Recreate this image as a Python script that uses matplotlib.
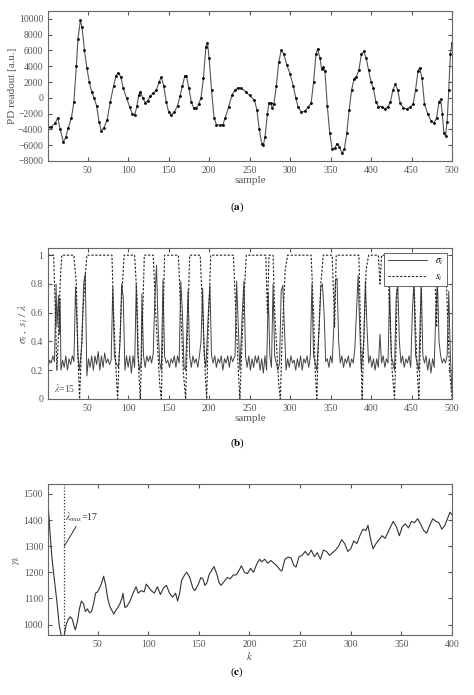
import matplotlib
matplotlib.use("Agg")
import matplotlib.pyplot as plt
import numpy as np

plt.rcParams['font.family'] = ['Liberation Serif', 'DejaVu Serif']
plt.rcParams['mathtext.fontset'] = 'stix'

# Panel (a): PD readout key points
a_x = [1,5,10,13,16,20,23,26,30,33,36,38,41,43,46,49,52,55,58,61,64,67,70,74,78,82,85,88,91,94,98,102,105,108,111,113,115,118,121,124,127,131,135,138,141,144,147,150,153,157,161,164,167,170,172,175,178,181,184,187,190,193,196,198,200,203,206,209,213,217,220,224,228,232,236,240,245,250,256,259,262,265,267,269,272,274,276,278,280,283,286,289,292,296,300,304,307,310,314,318,322,326,329,332,334,337,339,341,343,346,349,352,355,358,361,364,367,370,373,376,379,382,385,388,391,394,397,400,403,406,409,413,417,421,424,427,430,433,436,440,444,448,452,455,458,460,463,466,470,474,478,481,484,486,488,490,492,494,496,498,500]
a_y = [-3700,-3700,-3200,-2500,-4000,-5600,-5000,-3800,-2500,-500,4000,7500,9800,9000,6000,3800,2000,700,0,-1000,-3000,-4200,-3800,-2800,-500,1500,2800,3200,2600,1200,0,-1200,-2000,-2200,-1000,300,800,0,-600,-400,200,600,1000,2000,2600,1500,-500,-1800,-2200,-1800,-1000,200,1500,2800,2800,1200,-500,-1300,-1300,-800,0,2500,6500,7000,5000,1000,-2500,-3400,-3500,-3400,-2500,-1200,300,1000,1300,1200,800,300,-300,-1500,-4000,-5800,-6000,-5000,-2000,-600,-700,-1300,-800,1500,4500,6000,5600,4200,3000,1500,0,-1200,-1800,-1700,-1200,-700,2000,5500,6200,5000,3600,3900,3400,-1000,-4500,-6500,-6400,-5800,-6200,-7000,-6500,-4500,-1500,1000,2400,2700,3500,5500,5900,5000,3500,2000,1200,-500,-1100,-1100,-1400,-1100,-500,1000,1700,1000,-700,-1300,-1400,-1200,-800,1000,3400,3800,2500,-800,-2000,-2900,-3200,-2500,-500,-200,-2000,-4500,-4800,-3000,1000,5500,7000]

# Panel (b): sigma_i key points
sig_x = [1,3,5,7,9,11,12,14,15,16,17,19,21,23,25,27,29,31,33,35,37,38,40,43,45,47,49,51,53,55,57,59,61,63,65,67,69,71,73,75,77,79,81,83,85,88,90,92,94,96,98,100,102,104,106,108,110,112,114,116,117,119,121,123,125,127,129,131,133,135,137,139,141,143,145,147,149,151,153,155,157,159,161,163,165,167,169,171,174,176,178,180,182,184,186,188,190,192,194,196,199,201,203,205,207,209,211,213,215,217,219,221,223,225,227,229,232,234,236,238,241,243,245,247,249,251,253,255,257,259,261,263,265,267,269,271,273,275,277,279,281,283,285,287,289,291,293,295,297,299,301,303,305,307,309,311,313,315,317,319,321,323,325,327,329,331,333,336,338,340,342,344,346,348,350,352,354,356,358,360,362,364,366,368,370,372,374,376,378,380,382,384,386,388,391,393,395,397,399,401,403,405,407,409,411,413,415,417,419,421,423,425,427,429,431,433,435,437,439,441,443,445,447,449,451,453,455,457,459,462,464,466,468,470,472,474,476,478,480,482,484,486,488,490,492,494,496,498,500]
sig_y = [.22,.27,.25,.3,.26,.8,.5,.72,.45,.7,.2,.27,.22,.3,.2,.28,.24,.3,.26,.78,.5,.3,.2,.4,.8,.87,.16,.28,.22,.3,.2,.3,.24,.33,.2,.3,.22,.32,.25,.28,.24,.27,.78,.3,.25,.22,.4,.8,.7,.2,.3,.22,.3,.18,.3,.22,.8,.3,.2,.25,.73,.3,.22,.3,.26,.3,.25,.32,.7,.93,.5,.25,.2,.83,.3,.25,.27,.22,.28,.25,.3,.22,.3,.25,.82,.6,.22,.2,.76,.3,.22,.3,.25,.28,.22,.3,.4,.77,.3,.22,.6,.79,.3,.25,.3,.22,.28,.25,.3,.2,.28,.25,.3,.22,.3,.26,.3,.82,.5,.2,.6,.82,.3,.22,.3,.2,.28,.22,.3,.25,.3,.2,.28,.18,.3,.2,.74,.3,.22,.8,.3,.25,.2,.25,.75,.79,.5,.2,.28,.22,.3,.25,.27,.2,.28,.22,.3,.2,.28,.25,.3,.22,.3,.8,.3,.25,.2,.5,.78,.8,.6,.26,.28,.22,.3,.25,.5,.82,.84,.4,.25,.3,.22,.28,.25,.3,.22,.28,.25,.35,.6,.86,.5,.2,.4,.82,.5,.25,.3,.22,.28,.2,.28,.22,.45,.25,.3,.22,.28,.25,.79,.3,.25,.2,.7,.8,.4,.25,.3,.22,.28,.25,.3,.22,.6,.82,.3,.25,.2,.82,.3,.25,.3,.2,.28,.18,.28,.22,.6,.82,.4,.3,.25,.28,.25,.3,.75,.3,.05]

# Panel (b): s_i key points
s_x = [1,8,10,12,14,16,18,33,36,38,40,42,44,47,49,80,82,85,87,89,92,95,108,111,113,115,117,120,131,134,137,139,141,143,145,162,165,168,171,173,176,189,192,195,197,199,202,230,233,236,238,240,243,246,270,272,274,279,281,284,286,288,290,294,297,326,329,331,333,335,338,341,352,355,357,385,387,389,391,394,397,409,411,413,420,423,426,429,431,433,452,455,457,459,461,463,478,481,483,492,495,497,500]
s_y = [1,1,.6,.2,.45,.8,1,1,.8,.3,0,.3,.6,.85,1,1,.6,.2,0,.3,.7,1,1,.7,.2,0,.4,1,1,.6,.3,.1,0,.5,1,1,.6,.2,0,.4,1,1,.6,.2,0,.5,1,1,.6,.2,0,.3,.7,1,1,.6,1,1,.6,.3,.1,0,.4,.9,1,1,.6,.2,0,.4,.8,1,1,.5,1,1,.5,0,.4,.9,1,1,.8,1,1,.6,.2,0,.4,1,1,.5,.2,0,.4,1,1,.5,1,1,.5,.2,0]

# Panel (c): gamma_k key points
c_x = [1,3,5,8,10,12,14,16,17,19,21,23,25,27,28,30,32,34,36,38,40,42,44,46,48,50,52,54,56,58,60,62,64,66,68,70,72,74,75,77,79,82,85,88,90,93,96,98,100,103,106,109,112,115,118,121,124,127,129,131,133,136,138,141,144,146,149,152,154,156,158,160,163,165,168,170,172,175,178,181,184,187,190,192,195,198,201,204,207,210,212,215,218,221,224,227,230,232,235,238,241,244,246,249,252,255,258,261,264,267,270,273,276,279,282,285,288,291,294,297,300,303,306,309,312,315,317,320,322,325,328,331,334,337,340,342,345,348,351,354,357,360,363,366,369,372,375,378,381,384,387,390,393,396,398,400]
c_y = [1470,1350,1250,1150,1080,1000,960,950,960,1000,1020,1030,1020,990,980,1010,1060,1090,1080,1050,1060,1045,1050,1080,1120,1125,1140,1160,1185,1150,1100,1070,1055,1040,1055,1065,1080,1100,1120,1065,1070,1090,1120,1145,1120,1130,1125,1155,1145,1130,1120,1145,1115,1140,1150,1120,1105,1120,1090,1120,1170,1190,1200,1180,1140,1130,1150,1180,1175,1150,1160,1190,1210,1222,1190,1160,1150,1165,1180,1175,1190,1190,1210,1225,1200,1195,1215,1200,1230,1250,1240,1250,1235,1245,1235,1225,1210,1205,1250,1258,1255,1225,1220,1260,1265,1280,1265,1285,1260,1275,1250,1285,1280,1265,1275,1285,1300,1325,1310,1280,1290,1320,1310,1340,1365,1360,1380,1320,1290,1310,1325,1340,1330,1355,1380,1395,1375,1340,1375,1385,1370,1395,1390,1405,1385,1360,1350,1380,1405,1395,1390,1365,1380,1410,1430,1420]

lam_max = 17
lam = 15

W, H = 474, 695
fig = plt.figure(figsize=(W/100, H/100), dpi=100)
tc = '#555555'

def style(ax):
    ax.tick_params(direction='in', top=True, right=True, labelsize=7, colors=tc, length=3)
    for s in ax.spines.values():
        s.set_color('#666666'); s.set_linewidth(0.8)

def pos(top, bottom):
    return [48/W, 1-bottom/H, 404/W, (bottom-top)/H]

def panel_label(y, letter):
    fig.text(0.5, 1-y/H, r'($\mathbf{' + letter + '}$)', ha='center', va='center', fontsize=8)

ax1 = fig.add_axes(pos(11, 161))
ax1.plot(a_x, a_y, color='#555555', lw=0.8, marker='.', ms=2, mfc='black', mec='black')
ax1.set_xlim(1, 500); ax1.set_ylim(-8000, 11000)
ax1.set_xticks([50,100,150,200,250,300,350,400,450,500])
ax1.set_yticks(range(-8000, 10001, 2000))
ax1.set_xlabel('sample', fontsize=8, color=tc, labelpad=1)
ax1.set_ylabel('PD readout [a.u.]', fontsize=8, color=tc, labelpad=1)
style(ax1)
panel_label(207, 'a')

ax2 = fig.add_axes(pos(248, 399))
ax2.plot(sig_x, sig_y, color='#444444', lw=0.7, label=r'$\sigma_i$')
ax2.plot(s_x, s_y, color='#222222', lw=0.8, ls=(0, (2, 1.5)), label=r'$s_i$')
ax2.set_xlim(1, 500); ax2.set_ylim(0, 1.05)
ax2.set_xticks([50,100,150,200,250,300,350,400,450,500])
ax2.set_yticks([0, 0.2, 0.4, 0.6, 0.8, 1])
ax2.set_yticklabels(['0', '0.2', '0.4', '0.6', '0.8', '1'])
ax2.set_xlabel('sample', fontsize=8, color=tc, labelpad=1)
ax2.set_ylabel(r'$\sigma_i\ ,\ s_i\ /\ \lambda$', fontsize=8, color=tc, labelpad=1)
ax2.text(8, 0.05, r'$\lambda$=15', fontsize=7, color=tc)
leg = ax2.legend(loc='upper right', fontsize=7, frameon=True, fancybox=False, framealpha=1,
                 edgecolor='#666666', borderpad=0.4, handlelength=4)
leg.get_frame().set_linewidth(0.7)
style(ax2)
panel_label(443, 'b')

ax3 = fig.add_axes(pos(484, 635))
ax3.plot(c_x, c_y, color='#333333', lw=0.8)
ax3.axvline(lam_max, color='#333333', lw=0.9, ls=(0, (1, 1.5)))
ax3.annotate(r'$\lambda_{max}$=17', xy=(lam_max, 1300), xytext=(lam_max + 1, 1400),
             fontsize=7, color='#333333',
             arrowprops=dict(arrowstyle='-', color='#333333', lw=0.7, shrinkA=0, shrinkB=0))
ax3.set_xlim(1, 400); ax3.set_ylim(960, 1538)
ax3.set_xticks([50,100,150,200,250,300,350,400])
ax3.set_yticks([1000,1100,1200,1300,1400,1500])
ax3.set_xlabel(r'$k$', fontsize=8, color=tc, labelpad=1)
ax3.set_ylabel(r'$\gamma_k$', fontsize=8, color=tc, labelpad=1)
style(ax3)
panel_label(672, 'c')

fig.savefig('out.png', dpi=100)
